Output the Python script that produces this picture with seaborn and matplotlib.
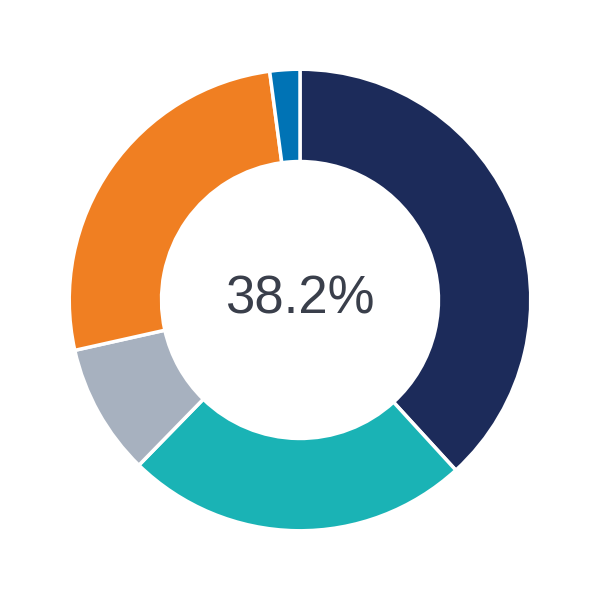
import matplotlib
matplotlib.use('Agg')
import matplotlib.pyplot as plt
import seaborn as sns

sns.set_theme(style='white')

# slice shares, clockwise from 12 o'clock
labels = ['Navy', 'Teal', 'Gray', 'Orange', 'Blue']
shares = [38.2, 24.1, 9.2, 26.4, 2.1]
colors = ['#1c2b5a', '#1ab3b5', '#a7b1bf', '#f07f22', '#0073b5']
center_label = '38.2%'

fig = plt.figure(figsize=(6, 6), dpi=100)
ax = fig.add_axes([0, 0, 1, 1])
ax.pie(shares, colors=colors, startangle=90, counterclock=False,
       wedgeprops=dict(width=0.4, edgecolor='white', linewidth=2.5))
ax.text(0, 0, center_label, ha='center', va='center', fontsize=38,
        color='#3a3f4b', family=['Liberation Sans', 'DejaVu Sans'])
ax.set_xlim(-1.3, 1.3)
ax.set_ylim(-1.3, 1.3)
ax.set_aspect('equal')
ax.axis('off')

plt.savefig('out.png', dpi=100, facecolor='white')
plt.close()
